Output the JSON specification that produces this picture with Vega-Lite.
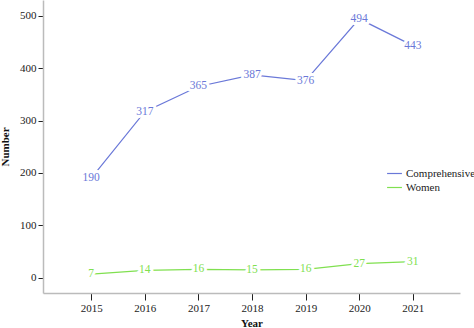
{
  "$schema": "https://vega.github.io/schema/vega-lite/v6.json",
  "autosize": {"type": "none"},
  "width": 417,
  "height": 293,
  "padding": {"left": 43, "top": 0, "right": 14, "bottom": 35},
  "background": "white",
  "config": {
    "view": {"stroke": null},
    "font": "Liberation Serif",
    "axis": {"labelFont": "Liberation Serif", "titleFont": "Liberation Serif", "labelFontSize": 11, "titleFontSize": 11, "labelColor": "#222", "titleColor": "#111", "domainColor": "#bbbbbb", "tickColor": "#222", "grid": false}
  },
  "data": {"values": [
    {"year": 2015, "value": 190, "series": "Comprehensive"},
    {"year": 2016, "value": 317, "series": "Comprehensive"},
    {"year": 2017, "value": 365, "series": "Comprehensive"},
    {"year": 2018, "value": 387, "series": "Comprehensive"},
    {"year": 2019, "value": 376, "series": "Comprehensive"},
    {"year": 2020, "value": 494, "series": "Comprehensive"},
    {"year": 2021, "value": 443, "series": "Comprehensive"},
    {"year": 2015, "value": 7, "series": "Women"},
    {"year": 2016, "value": 14, "series": "Women"},
    {"year": 2017, "value": 16, "series": "Women"},
    {"year": 2018, "value": 15, "series": "Women"},
    {"year": 2019, "value": 16, "series": "Women"},
    {"year": 2020, "value": 27, "series": "Women"},
    {"year": 2021, "value": 31, "series": "Women"}
  ]},
  "encoding": {
    "x": {"field": "year", "type": "quantitative", "scale": {"domain": [2014.1, 2021.88], "nice": false, "zero": false},
      "axis": {"values": [2015, 2016, 2017, 2018, 2019, 2020, 2021], "format": "d", "title": "Year", "titleFontWeight": "bold", "tickSize": 7, "labelPadding": 2, "titlePadding": 4, "domainWidth": 1.5}},
    "y": {"field": "value", "type": "quantitative", "scale": {"domain": [-29, 530], "nice": false, "zero": false},
      "axis": {"values": [0, 100, 200, 300, 400, 500], "title": "Number", "titleFontWeight": "bold", "tickSize": 5, "labelPadding": 2, "titlePadding": 9, "domainWidth": 1.5}}
  },
  "layer": [
    {
      "mark": {"type": "line", "strokeWidth": 1.2},
      "encoding": {
        "color": {"field": "series", "type": "nominal",
          "scale": {"domain": ["Comprehensive", "Women"], "range": ["#6a78d8", "#80e050"]},
          "legend": {"title": null, "orient": "none", "legendX": 343, "legendY": 165, "symbolType": "stroke", "symbolSize": 220, "symbolStrokeWidth": 1.2, "labelFont": "Liberation Serif", "labelFontSize": 11, "labelColor": "#222", "rowPadding": 0, "symbolOffset": 0, "labelOffset": 3}}
      }
    },
    {
      "mark": {"type": "text", "font": "Liberation Serif", "fontSize": 11.5, "stroke": "white", "strokeWidth": 6, "strokeJoin": "round"},
      "encoding": {"text": {"field": "value", "type": "quantitative"}}
    },
    {
      "mark": {"type": "text", "font": "Liberation Serif", "fontSize": 11.5},
      "encoding": {
        "text": {"field": "value", "type": "quantitative"},
        "color": {"field": "series", "type": "nominal", "scale": {"domain": ["Comprehensive", "Women"], "range": ["#6a78d8", "#80e050"]}, "legend": null}
      }
    }
  ]
}
